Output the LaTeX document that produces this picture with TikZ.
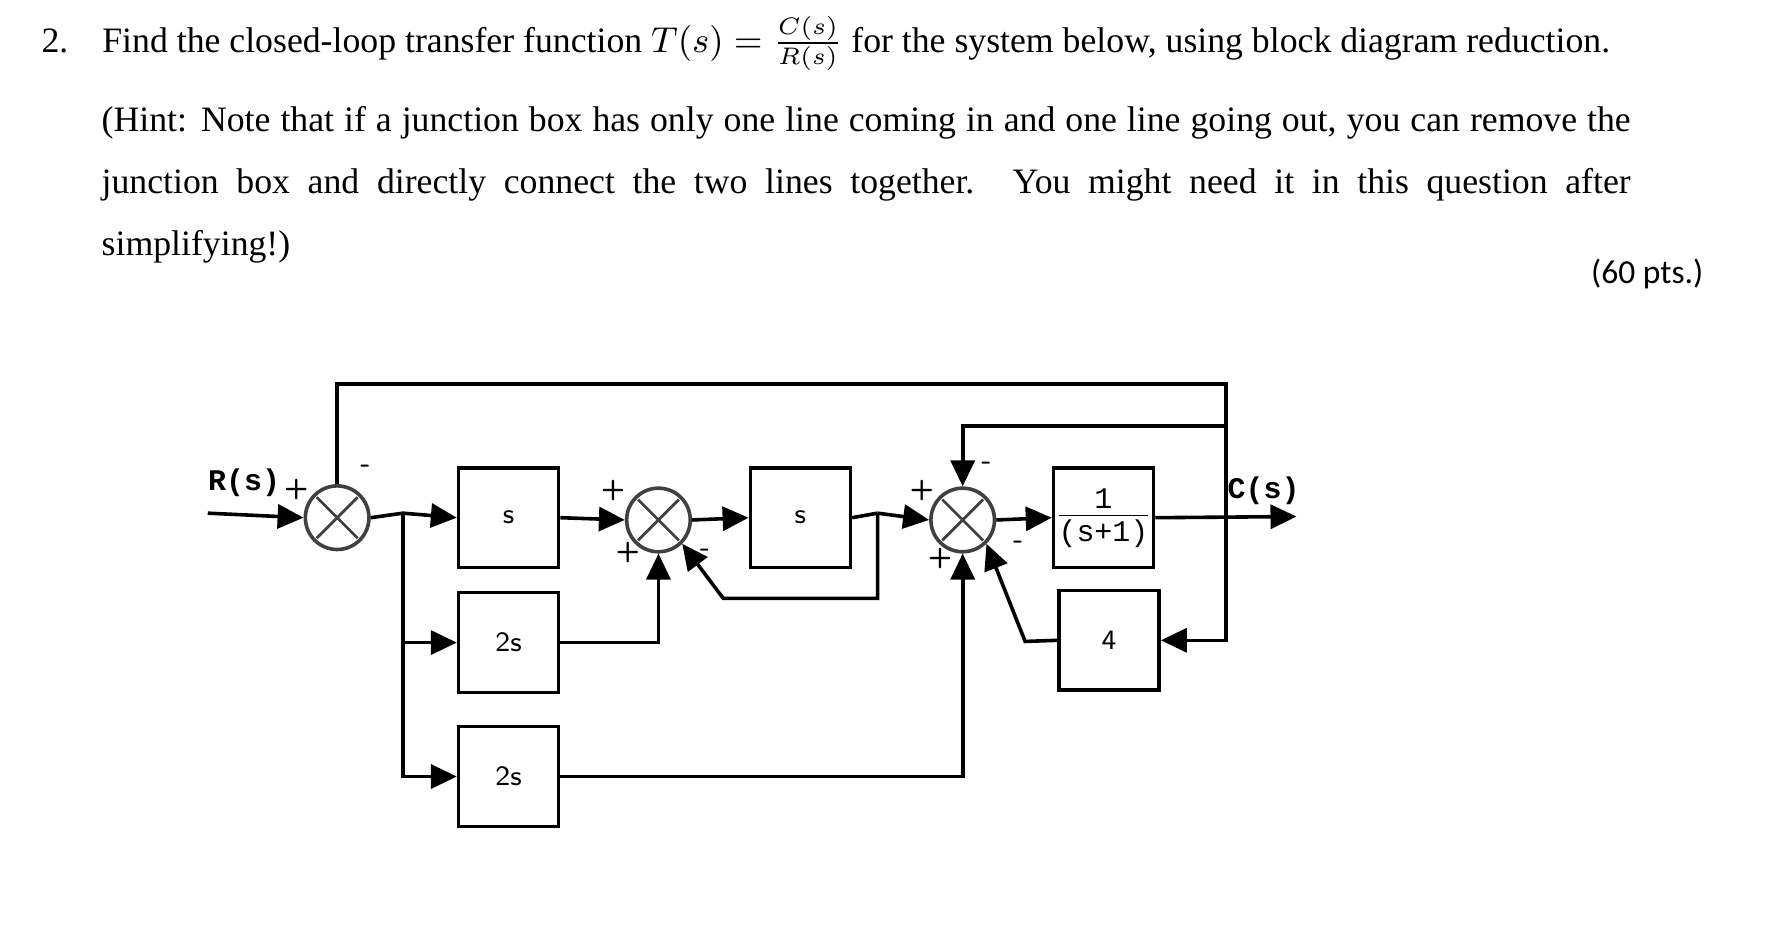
\documentclass[tikz,border=0pt]{standalone}
\usepackage{fontspec}
\setmainfont{Liberation Serif}
\newfontfamily\calib{Carlito}
\newfontfamily\monob{Liberation Mono}
\usetikzlibrary{arrows.meta}
\begin{document}
\begin{tikzpicture}[x=0.01cm,y=-0.01cm,
  line width=0.9pt,
  blk/.style={draw,minimum width=0.88cm,minimum height=0.88cm,inner sep=0pt,font=\sffamily\fontsize{7}{8}\selectfont},
  sum/.style={draw=black!75,circle,minimum size=0.56cm,inner sep=0pt,
    path picture={\draw[black!75,line width=0.7pt] ([shift={(0.1cm,-0.1cm)}]path picture bounding box.north west)--([shift={(-0.1cm,0.1cm)}]path picture bounding box.south east) ([shift={(-0.1cm,-0.1cm)}]path picture bounding box.north east)--([shift={(0.1cm,0.1cm)}]path picture bounding box.south west);}},
  ar/.style={-{Triangle[length=6.5pt,width=6pt]}},
  sg/.style={font=\sffamily\bfseries\fontsize{7}{8}\selectfont},
  lab/.style={font=\monob\bfseries\fontsize{7.5}{8}\selectfont}]
\useasboundingbox (0,0) rectangle (1560,823.6);
% text
\node[anchor=base west,inner sep=0pt,font=\fontsize{8.95}{10}\selectfont] (q) at (35,46) {2.\hspace{0.3cm}Find the closed-loop transfer function $T(s)=\frac{C(s)}{R(s)}$ for the system below, using block diagram reduction.};
\node[anchor=north west,inner sep=0pt,text width=13.46cm,align=justify,font=\fontsize{8.95}{15.6}\selectfont] (hint) at (88,92) {(Hint: Note that if a junction box has only one line coming in and one line going out, you can remove the\linebreak junction box and directly connect the two lines together. You might need it in this question after\linebreak simplifying!)};
\node[anchor=base east,inner sep=0pt,font=\calib\fontsize{8.4}{10}\selectfont] (pts) at (1502,250) {(60 pts.)};
% nodes
\coordinate (in) at (183,452);
\node[sum] (s1) at (297,456) {};
\node[sum] (s2) at (580,458) {};
\node[sum] (s3) at (848,458) {};
\node[blk] (b1) at (448,456) {s};
\node[blk] (b2) at (705,456) {s};
\node[blk] (b3) at (448,566) {2s};
\node[blk] (b4) at (448,684) {2s};
\node[blk,font=\monob\fontsize{7.5}{9}\selectfont] (g) at (972,456) {\begin{tabular}{@{}c@{}}1\\[-1pt]\hline (s+1)\end{tabular}};
\node[blk] (h) at (977,564) {4};
\coordinate (out) at (1142,455);
\coordinate (br1) at (355,452);
\coordinate (br2) at (773,452);
\coordinate (br3) at (1080,455);
% connectors
\draw[ar] (in) -- (s1.west);
\draw (s1.east) -- (br1);
\draw[ar] (br1) -- (b1.west);
\draw[ar] (br1) |- (b3.west);
\draw[ar] (br1) |- (b4.west);
\draw[ar] (b1.east) -- (s2.west);
\draw[ar] (b3.east) -| (s2.south);
\draw[ar] (s2.east) -- (b2.west);
\draw (b2.east) -- (br2);
\draw[ar] (br2) -- (s3.west);
\draw[ar] (br2) |- (637,527) -- (s2.south east);
\draw[ar] (b4.east) -| (s3.south);
\draw[ar] (s3.east) -- (g.west);
\draw[ar] (g.east) -- (out);
\draw (br3) -- (1080,338) -| (s1.north);
\draw[ar] (1080,375) -| (s3.north);
\draw[ar] (br3) |- (h.east);
\draw[ar] (h.west) -- (903,565) -- (s3.south east);
% signs and labels
\node[lab] (R) at (215,425) {R(s)};
\node[lab] (C) at (1113,432) {C(s)};
\node[sg] at (261,431) {+};
\node[sg] at (322,413) {-};
\node[sg] at (540,432) {+};
\node[sg] at (553,487) {+};
\node[sg] at (621,487) {-};
\node[sg] at (812,432) {+};
\node[sg] at (869,410) {-};
\node[sg] at (828,492) {+};
\node[sg] at (897,480) {-};
\end{tikzpicture}
\end{document}
